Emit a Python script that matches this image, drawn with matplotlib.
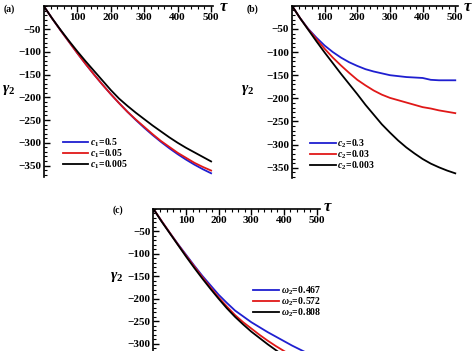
import matplotlib
matplotlib.use("Agg")
import matplotlib.pyplot as plt
from matplotlib.ticker import MultipleLocator, FixedLocator
from matplotlib.lines import Line2D

plt.rcParams['font.family'] = ['Liberation Serif', 'DejaVu Serif']
plt.rcParams['font.weight'] = 'bold'
plt.rcParams['mathtext.fontset'] = 'custom'
plt.rcParams['mathtext.rm'] = 'Liberation Serif:bold'
plt.rcParams['mathtext.it'] = 'Liberation Serif:italic:bold'
plt.rcParams['mathtext.bf'] = 'Liberation Serif:bold'

# ---- data ----
tau = [0, 25, 50, 75, 100, 125, 150, 175, 200, 225, 250, 275, 300,
       325, 350, 375, 400, 425, 450, 475, 500]

# panel (a)
a_c1_05 = [0, -27, -53, -78, -103, -127, -150, -172, -193, -213, -232, -250, -267,
           -283, -298, -312, -325, -337, -348, -358, -367]
a_c1_005 = [0, -27, -53, -78, -103, -127, -150, -172, -193, -213, -232, -249, -265,
            -281, -296, -309, -322, -333, -344, -353, -361]
a_c1_0005 = [0, -27, -52, -76, -99, -121, -142, -163, -184, -203, -219, -234, -248,
             -262, -275, -288, -300, -311, -321, -331, -341]
a_labels = [r'$c_1\!=\!0.5$', r'$c_1\!=\!0.05$', r'$c_1\!=\!0.005$']

# panel (b)
b_c2_03 = [0, -27, -50, -69, -86, -100, -112, -122, -130, -137, -142, -146, -150,
           -152, -154, -155, -156, -160, -161, -161, -161]
b_c2_003 = [0, -27, -51, -72, -93, -112, -129, -145, -160, -172, -183, -192, -199,
            -204, -209, -214, -219, -222, -226, -229, -232]
b_c2_0003 = [0, -27, -52, -77, -101, -124, -147, -169, -191, -214, -235, -256, -274,
             -291, -306, -319, -331, -341, -349, -356, -362]
b_labels = [r'$c_2\!=\!0.3$', r'$c_2\!=\!0.03$', r'$c_2\!=\!0.003$']

# panel (c)
c_w_0467 = [0, -27, -53, -78, -102, -126, -149, -170, -191, -209, -226, -239, -252,
            -263, -274, -284, -294, -304, -313, -322, -331]
c_w_0572 = [0, -27, -53, -79, -104, -128, -152, -175, -197, -217, -236, -252, -266,
            -280, -293, -305, -316, -327, -337, -347, -356]
c_w_0808 = [0, -28, -54, -80, -106, -131, -155, -178, -200, -221, -240, -257, -273,
            -287, -301, -314, -327, -338, -349, -359, -369]
c_labels = [r'$\omega_2\!=\!0.467$', r'$\omega_2\!=\!0.572$', r'$\omega_2\!=\!0.808$']

x_ticks = [100, 200, 300, 400, 500]
y_ticks_ab = [-50, -100, -150, -200, -250, -300, -350]
y_ticks_c = [-50, -100, -150, -200, -250, -300]

colors = ['#1f1fd0', '#e01818', 'black']

fig = plt.figure(figsize=(4.74, 3.51), dpi=100)


def style(ax, yticks, ylim, xlim):
    ax.set_xlim(*xlim)
    ax.set_ylim(*ylim)
    for s in ['top', 'right']:
        ax.spines[s].set_visible(False)
    ax.spines['bottom'].set_position(('data', 0))
    ax.spines['left'].set_position(('data', 0))
    for s in ['bottom', 'left']:
        ax.spines[s].set_linewidth(1.2)
    ax.xaxis.set_major_locator(FixedLocator(x_ticks))
    ax.xaxis.set_minor_locator(MultipleLocator(20))
    ax.yaxis.set_major_locator(FixedLocator(yticks))
    ax.yaxis.set_minor_locator(MultipleLocator(10))
    ax.tick_params(axis='x', which='major', direction='out', length=4, width=1,
                   labelsize=8, pad=1)
    ax.tick_params(axis='x', which='minor', direction='out', length=2, width=0.8)
    ax.tick_params(axis='y', which='major', direction='in', length=4, width=1,
                   labelsize=8, pad=2)
    ax.tick_params(axis='y', which='minor', direction='in', length=2, width=0.8)
    ax.patch.set_alpha(0)


def legend(ax, labels, anchor):
    handles = [Line2D([], [], color=c, lw=1.3) for c in colors]
    ax.legend(handles, labels, loc='upper left', bbox_to_anchor=anchor,
              frameon=False, fontsize=7, handlelength=2.6, handletextpad=0.2,
              labelspacing=-0.15, borderaxespad=0, borderpad=0)


# (a)
axa = fig.add_axes([0.0926, 0.496, 0.357, 0.486])
for ys, c in zip([a_c1_05, a_c1_005, a_c1_0005], colors):
    axa.plot(tau, ys, color=c, lw=1.3)
style(axa, y_ticks_ab, (-375, 0), (0, 506))
legend(axa, a_labels, (0.11, 0.235))
fig.text(0.461, 0.979, r'$\tau$', fontsize=12, ha='left', va='center')
fig.text(0.005, 0.745, r'$\gamma_2$', fontsize=11, ha='left', va='center')
fig.text(0.008, 0.975, '(a)', fontsize=7, ha='left', va='center')

# (b)
axb = fig.add_axes([0.616, 0.493, 0.350, 0.4906])
for ys, c in zip([b_c2_03, b_c2_003, b_c2_0003], colors):
    axb.plot(tau, ys, color=c, lw=1.3)
style(axb, y_ticks_ab, (-372, 0), (0, 508))
legend(axb, b_labels, (0.11, 0.235))
fig.text(0.976, 0.979, r'$\tau$', fontsize=12, ha='left', va='center')
fig.text(0.508, 0.745, r'$\gamma_2$', fontsize=11, ha='left', va='center')
fig.text(0.52, 0.975, '(b)', fontsize=7, ha='left', va='center')

# (c)
axc = fig.add_axes([0.3238, 0.0, 0.351, 0.4046])
for ys, c in zip([c_w_0467, c_w_0572, c_w_0808], colors):
    axc.plot(tau, ys, color=c, lw=1.3)
style(axc, y_ticks_c, (-316, 0), (0, 510))
legend(axc, c_labels, (0.60, 0.47))
fig.text(0.682, 0.41, r'$\tau$', fontsize=12, ha='left', va='center')
fig.text(0.232, 0.21, r'$\gamma_2$', fontsize=11, ha='left', va='center')
fig.text(0.238, 0.40, '(c)', fontsize=7, ha='left', va='center')

fig.savefig('out.png', dpi=100)
